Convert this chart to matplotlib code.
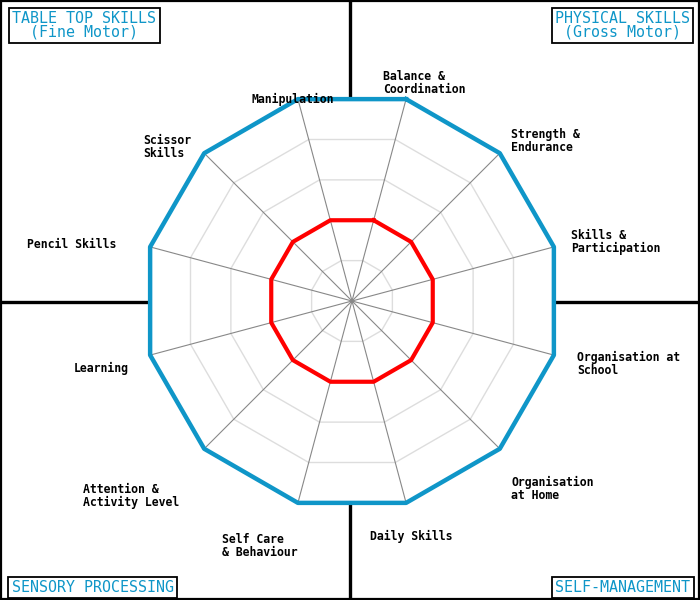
import numpy as np
import matplotlib.pyplot as plt
from matplotlib.patches import Rectangle

# Radar axes, clockwise from top
categories = ['Balance &\nCoordination', 'Strength &\nEndurance', 'Skills &\nParticipation',
              'Organisation at\nSchool', 'Organisation\nat Home', 'Daily Skills',
              'Self Care\n& Behaviour', 'Attention &\nActivity Level', 'Learning',
              'Pencil Skills', 'Scissor\nSkills', 'Manipulation']
scores = [2, 2, 2, 2, 2, 2, 2, 2, 2, 2, 2, 2]
max_score = 5
rings = [1, 2, 3, 4]

quadrants = ['TABLE TOP SKILLS\n(Fine Motor)', 'PHYSICAL SKILLS\n(Gross Motor)',
             'SENSORY PROCESSING', 'SELF-MANAGEMENT']

# layout (pixel positions of label anchors, left/center)
label_pos = [(383, 83), (511, 141), (571, 242), (577, 364), (511, 489), (370, 536),
             (222, 546), (83, 496), (74, 368), (27, 245), (143, 147), (251, 99)]
quad_pos = [(84.5, 25.5), (622.5, 25.5), (92.5, 587.5), (623, 587.5)]

W, H = 700, 600
blue = '#0f96c8'
red = '#ff0000'
mono = 'DejaVu Sans Mono'

fig = plt.figure(figsize=(7, 6), dpi=100)

bg = fig.add_axes([0, 0, 1, 1], zorder=0)
bg.set_xlim(0, W)
bg.set_ylim(H, 0)
bg.axis('off')
bg.plot([350, 350], [0, H], color='black', lw=2.4)
bg.plot([0, W], [302, 302], color='black', lw=2.4)
bg.add_patch(Rectangle((0.8, 0.8), W - 1.6, H - 1.6, fill=False, ec='black', lw=1.6))

for txt, (x, y) in zip(quadrants, quad_pos):
    bg.text(x, y, txt, ha='center', va='center', color=blue, fontfamily=mono,
            fontsize=10.8, linespacing=0.88,
            bbox=dict(boxstyle='square,pad=0.22', fc='white', ec='black', lw=1.3))

# radar
cx, cy, R = 352, 301, 209
ax = fig.add_axes([(cx - R) / W, (H - cy - R) / H, 2 * R / W, 2 * R / H],
                  projection='polar', zorder=1)
ax.set_theta_zero_location('N')
ax.set_theta_direction(-1)
ax.set_ylim(0, max_score)
ax.set_axis_off()

n = len(categories)
theta = np.radians(15 + 30 * np.arange(n))
theta_c = np.append(theta, theta[0])

ax.fill(theta_c, [max_score] * (n + 1), color='white', zorder=0, clip_on=False)
for r in rings:
    ax.plot(theta_c, [r] * (n + 1), color='#dddddd', lw=1, zorder=1)
for t in theta:
    ax.plot([t, t], [0, max_score], color='#888888', lw=0.8, zorder=2)

ax.plot(theta_c, [max_score] * (n + 1), color=blue, lw=3.2, zorder=3, clip_on=False)
ax.plot(theta_c, scores + scores[:1], color=red, lw=3.0, zorder=4, clip_on=False)

for txt, (x, y) in zip(categories, label_pos):
    fig.text(x / W, 1 - y / H, txt, ha='left', va='center', fontfamily=mono,
             fontweight='bold', fontsize=8.3, linespacing=0.95, zorder=5)

fig.savefig('out.png', dpi=100, facecolor='white')
